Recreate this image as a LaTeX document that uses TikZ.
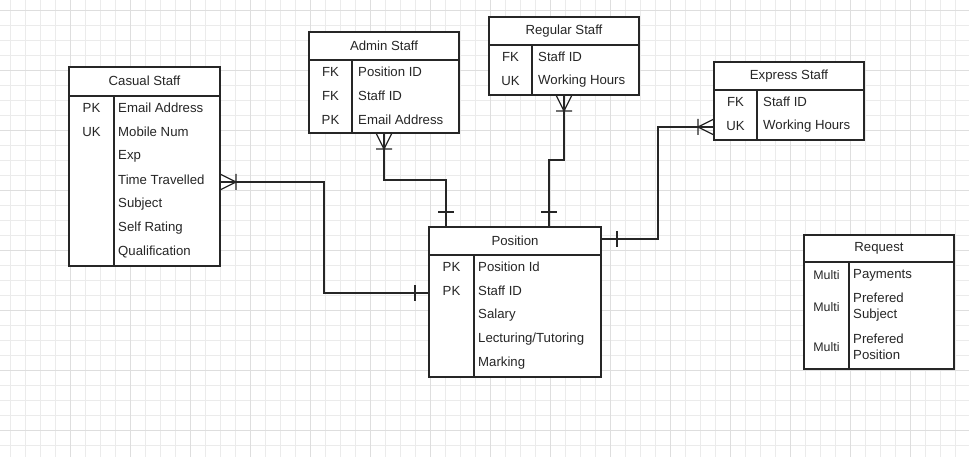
\documentclass[tikz,border=0pt]{standalone}
\usepackage{fontspec}
\setmainfont{Liberation Sans}
\begin{document}
\begin{tikzpicture}[x=1pt,y=-1pt,
  box/.style={draw=black!85,line width=1.3pt},
  ln/.style={draw=black!85,line width=1.3pt},
  t/.style={font=\fontsize{13.2}{16}\selectfont,inner sep=0pt,text=black!85},
  ts/.style={font=\fontsize{12.4}{14}\selectfont,inner sep=0pt,text=black!85},
  grid1/.style={draw=black!8,line width=0.6pt},
  grid2/.style={draw=black!13,line width=0.9pt}]
\useasboundingbox (0,0) rectangle (969,457);
\fill[white] (0,0) rectangle (969,457);
\foreach \x in {10,25,...,969} \draw[grid1] (\x,0) -- (\x,457);
\foreach \y in {10,25,...,457} \draw[grid1] (0,\y) -- (969,\y);
\foreach \x in {70,130,...,969} \draw[grid2] (\x,0) -- (\x,457);
\foreach \y in {10,70,...,457} \draw[grid2] (0,\y) -- (969,\y);
% Casual Staff
\fill[white] (69,67) rectangle (220,266);
\draw[box] (69,67) rectangle (220,266) (69,96) -- (220,96) (114,96) -- (114,266);
\node[t] (cs) at (144.5,81) {Casual Staff};
\node[t] (cs1k) at (91.5,108) {PK}; \node[t,anchor=west] (cs1) at (118,108) {Email Address};
\node[t] (cs2k) at (91.5,132) {UK}; \node[t,anchor=west] (cs2) at (118,132) {Mobile Num};
\node[t,anchor=west] (cs3) at (118,156) {Exp};
\node[t,anchor=west] (cs4) at (118,180) {Time Travelled};
\node[t,anchor=west] (cs5) at (118,204) {Subject};
\node[t,anchor=west] (cs6) at (118,228) {Self Rating};
\node[t,anchor=west] (cs7) at (118,252) {Qualification};
% Admin Staff
\fill[white] (309,32) rectangle (459,133);
\draw[box] (309,32) rectangle (459,133) (309,60) -- (459,60) (352,60) -- (352,133);
\node[t] (as) at (384,46) {Admin Staff};
\node[t] (a1k) at (330.5,72) {FK}; \node[t,anchor=west] (a1) at (358,72) {Position ID};
\node[t] (a2k) at (330.5,96) {FK}; \node[t,anchor=west] (a2) at (358,96) {Staff ID};
\node[t] (a3k) at (330.5,120) {PK}; \node[t,anchor=west] (a3) at (358,120) {Email Address};
% Regular Staff
\fill[white] (489,17) rectangle (639,95);
\draw[box] (489,17) rectangle (639,95) (489,45) -- (639,45) (532,45) -- (532,95);
\node[t] (rs) at (564,31) {Regular Staff};
\node[t] (r1k) at (510.5,57) {FK}; \node[t,anchor=west] (r1) at (538,57) {Staff ID};
\node[t] (r2k) at (510.5,81) {UK}; \node[t,anchor=west] (r2) at (538,81) {Working Hours};
% Express Staff
\fill[white] (714,62) rectangle (864,140);
\draw[box] (714,62) rectangle (864,140) (714,90) -- (864,90) (757,90) -- (757,140);
\node[t] (es) at (789,76) {Express Staff};
\node[t] (e1k) at (735.5,102) {FK}; \node[t,anchor=west] (e1) at (763,102) {Staff ID};
\node[t] (e2k) at (735.5,126) {UK}; \node[t,anchor=west] (e2) at (763,126) {Working Hours};
% Position
\fill[white] (429,227) rectangle (601,377);
\draw[box] (429,227) rectangle (601,377) (429,255) -- (601,255) (474,255) -- (474,377);
\node[t] (ps) at (515,241) {Position};
\node[t] (p1k) at (451.5,267) {PK}; \node[t,anchor=west] (p1) at (478,267) {Position Id};
\node[t] (p2k) at (451.5,291) {PK}; \node[t,anchor=west] (p2) at (478,291) {Staff ID};
\node[t,anchor=west] (p3) at (478,315) {Salary};
\node[t,anchor=west] (p4) at (478,339) {Lecturing/Tutoring};
\node[t,anchor=west] (p5) at (478,363) {Marking};
% Request
\fill[white] (804,235) rectangle (954,369);
\draw[box] (804,235) rectangle (954,369) (804,262) -- (954,262) (849,262) -- (849,369);
\node[t] (rq) at (879,248) {Request};
\node[ts] (q1k) at (826.5,275) {Multi}; \node[t,anchor=west] (q1) at (853,275) {Payments};
\node[ts] (q2k) at (826.5,307) {Multi}; \node[t,anchor=west,align=left] (q2) at (853,307) {Prefered\\Subject};
\node[ts] (q3k) at (826.5,347) {Multi}; \node[t,anchor=west,align=left] (q3) at (853,347) {Prefered\\Position};
% connectors
\coordinate (c1) at (220,182); \coordinate (c1b) at (429,293);
\draw[ln] (c1) -- (324,182) -- (324,293) -- (c1b);
\draw[ln] (220,174) -- (236,182) -- (220,190) (236,174) -- (236,190);
\draw[ln] (415,285) -- (415,301);
\coordinate (c2) at (384,133); \coordinate (c2b) at (446,227);
\draw[ln] (c2) -- (384,180) -- (446,180) -- (c2b);
\draw[ln] (376,133) -- (384,149) -- (392,133) (376,149) -- (392,149);
\draw[ln] (438,212) -- (454,212);
\coordinate (c3) at (564,95); \coordinate (c3b) at (549,227);
\draw[ln] (c3) -- (564,160) -- (549,160) -- (c3b);
\draw[ln] (556,95) -- (564,111) -- (572,95) (556,111) -- (572,111);
\draw[ln] (541,212) -- (557,212);
\coordinate (c4) at (714,127); \coordinate (c4b) at (601,239);
\draw[ln] (c4) -- (658,127) -- (658,239) -- (c4b);
\draw[ln] (714,119) -- (698,127) -- (714,135) (698,119) -- (698,135);
\draw[ln] (617,231) -- (617,247);
\end{tikzpicture}
\end{document}
